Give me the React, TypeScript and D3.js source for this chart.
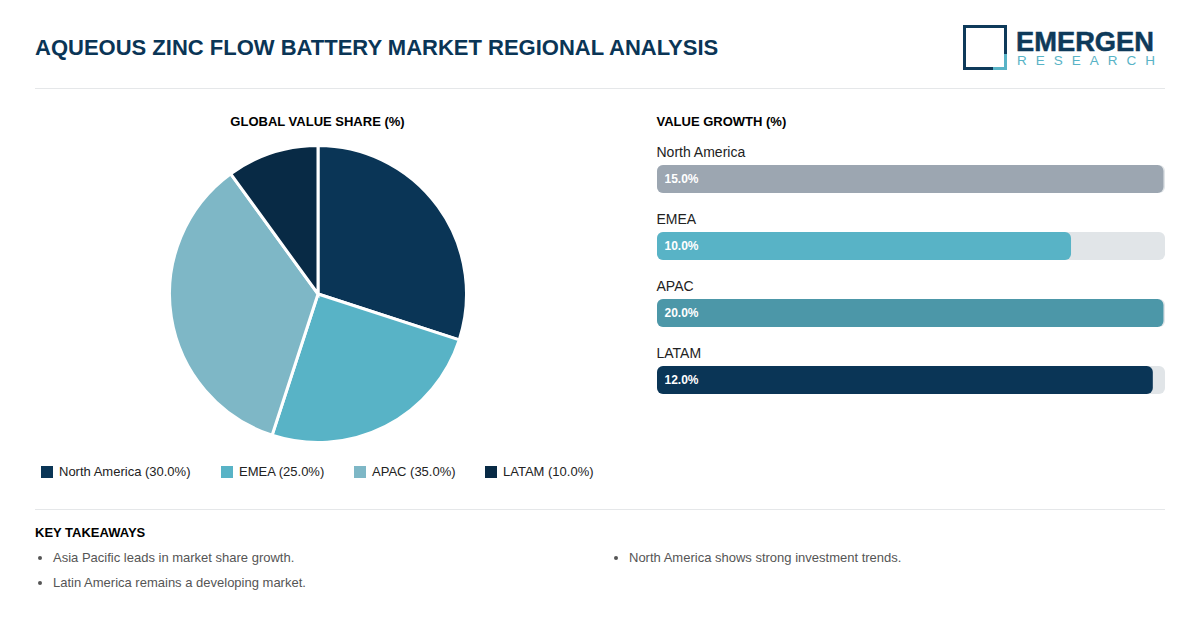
import React from 'react';
import { arc, pie, scaleLinear } from 'd3';

const regions = ['North America', 'EMEA', 'APAC', 'LATAM'];
const shareValues = [30, 25, 35, 10];
const shareColors = ['#0a3556', '#58b3c6', '#7eb7c6', '#082a45'];
const growthLabels = ['15.0%', '10.0%', '20.0%', '12.0%'];
// bar lengths as drawn in the picture, % of the track
const growthFill = [99.7, 81.5, 99.7, 97.6];
const growthColors = ['#9ca6b1', '#58b3c6', '#4c97a8', '#0a3556'];
const takeawaysLeft = ['Asia Pacific leads in market share growth.', 'Latin America remains a developing market.'];
const takeawaysRight = ['North America shows strong investment trends.'];

const FONT = '"Liberation Sans", Arial, sans-serif';
const legendX = [41, 221, 354, 485];

const App: React.FC = () => {
  const slices = pie<number>().sort(null)(shareValues);
  const sliceArc = arc<any>().innerRadius(0).outerRadius(148.5);
  const barX = scaleLinear().domain([0, 100]).range([657, 1165]);

  return (
    <svg
      width={1200}
      height={620}
      viewBox="0 0 1200 620"
      style={{ position: 'fixed', left: 0, top: 0, background: '#fff', fontFamily: FONT }}
    >
      <text x={35} y={55} fontSize={22} fontWeight={700} fill="#0a3556">
        AQUEOUS ZINC FLOW BATTERY MARKET REGIONAL ANALYSIS
      </text>

      {/* logo */}
      <g>
        <path d="M993 68.5H964.5V26.5H1005.5V54" fill="none" stroke="#0e3a5a" strokeWidth={3} />
        <path d="M993 68.5H1005.5V54" fill="none" stroke="#58b3c6" strokeWidth={3} />
        <text x={1016} y={50.5} fontSize={27.5} fontWeight={700} stroke="#0e3a5a" strokeWidth={0.5} fill="#0e3a5a" textLength={138} lengthAdjust="spacingAndGlyphs">
          EMERGEN
        </text>
        <text x={1017} y={64.5} fontSize={13.5} fill="#58b3c6" textLength={138} lengthAdjust="spacing">
          RESEARCH
        </text>
      </g>

      <line x1={35} x2={1165} y1={88.5} y2={88.5} stroke="#e5e7e9" />

      <text x={317.5} y={126} fontSize={13} fontWeight={700} fill="#000" textAnchor="middle">
        GLOBAL VALUE SHARE (%)
      </text>
      <g transform="translate(318,294)">
        {slices.map((s, i) => (
          <path key={regions[i]} d={sliceArc(s) as string} fill={shareColors[i]} stroke="#fff" strokeWidth={3} />
        ))}
      </g>

      {regions.map((r, i) => (
        <g key={r}>
          <rect x={legendX[i]} y={466} width={12} height={12} fill={shareColors[i]} />
          <text x={legendX[i] + 18} y={476} fontSize={13} fill="#222">
            {`${r} (${shareValues[i].toFixed(1)}%)`}
          </text>
        </g>
      ))}

      <text x={656.5} y={126} fontSize={13} fontWeight={700} fill="#000">
        VALUE GROWTH (%)
      </text>
      {regions.map((r, i) => {
        const top = 165 + i * 67;
        return (
          <g key={r}>
            <text x={656.5} y={top - 8} fontSize={14} fill="#222">
              {r}
            </text>
            <rect x={barX(0)} y={top} width={barX(100) - barX(0)} height={28} rx={6} fill="#e1e5e8" />
            <rect x={barX(0)} y={top} width={barX(growthFill[i]) - barX(0)} height={28} rx={6} fill={growthColors[i]} />
            <text x={664.5} y={top + 18} fontSize={12} fontWeight={700} fill="#fff">
              {growthLabels[i]}
            </text>
          </g>
        );
      })}

      <line x1={35} x2={1165} y1={509.5} y2={509.5} stroke="#e5e7e9" />
      <text x={35} y={537} fontSize={13} fontWeight={700} fill="#000">
        KEY TAKEAWAYS
      </text>
      {takeawaysLeft.map((t, i) => (
        <g key={t}>
          <circle cx={40} cy={558 + i * 25} r={2} fill="#555" />
          <text x={53} y={562 + i * 25} fontSize={13} fill="#555">
            {t}
          </text>
        </g>
      ))}
      {takeawaysRight.map((t, i) => (
        <g key={t}>
          <circle cx={616} cy={558 + i * 25} r={2} fill="#555" />
          <text x={629} y={562 + i * 25} fontSize={13} fill="#555">
            {t}
          </text>
        </g>
      ))}
    </svg>
  );
};

export default App;
